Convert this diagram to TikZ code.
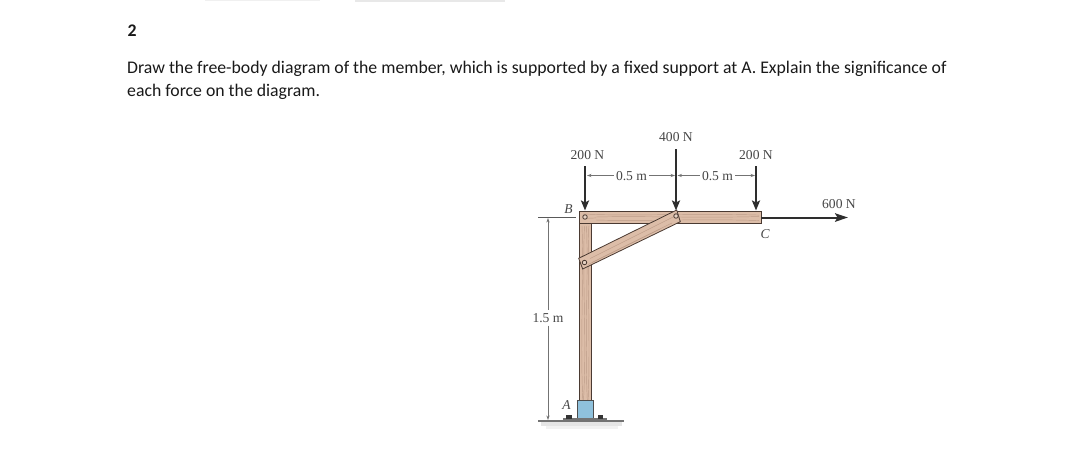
\documentclass[tikz,border=0pt]{standalone}
\usepackage{fontspec}
\setmainfont{Carlito}
\newfontfamily\labelfont{Liberation Serif}
\usetikzlibrary{arrows.meta,calc}
\definecolor{wood}{HTML}{DCBDA8}
\definecolor{woodd}{HTML}{BD9C88}
\definecolor{edge}{HTML}{4A3A32}
\definecolor{steel}{HTML}{8FC1DC}
\definecolor{inkg}{HTML}{2E2E2E}
\tikzset{
 question/.style={anchor=base west,inner sep=0pt,font=\fontsize{17.75}{20}\selectfont,text=black!90},
 dimlabel/.style={inner sep=0pt,outer xsep=2.5pt,outer ysep=3pt,font=\labelfont\fontsize{13.6}{15}\selectfont,text=black!72},
 letter/.style={inner sep=0pt,font=\labelfont\itshape\fontsize{13.5}{15}\selectfont,text=black!72},
 member/.style={fill=wood,draw=edge,line width=0.8pt},
 grain/.style={draw=woodd,line width=0.45pt},
 force/.style={draw=inkg,line width=2pt,-{Stealth[length=10pt,width=8pt,inset=2pt]}},
 pull/.style={draw=inkg,line width=2pt,-{Stealth[length=13pt,width=8.5pt,inset=2.5pt]}},
 dimstart/.style={draw=black!55,line width=1pt,{Stealth[length=4.5pt,width=3.2pt]}-},
 dimend/.style={draw=black!55,line width=1pt,-{Stealth[length=4.5pt,width=3.2pt]}},
 extline/.style={draw=black!65,line width=0.8pt},
 pin/.style={circle,draw=edge,fill=wood!70!white,line width=0.8pt,minimum size=4.5pt,inner sep=0pt},
}
\begin{document}
\begin{tikzpicture}[x=1pt,y=-1pt]
\useasboundingbox (0,0) rectangle (1080,448);
\fill[white] (0,0) rectangle (1080,448);
% faint marks along the top edge
\fill[black!6] (205,0) rectangle (320,1);
\fill[black!9] (355,0) rectangle (505,1.5);
% question text
\node[question,font=\bfseries\fontsize{17.75}{20}\selectfont] (num) at (127.5,36) {2};
\node[question] (q1) at (127,73) {Draw the free-body diagram of the member, which is supported by a fixed support at A. Explain the significance of};
\node[question] (q2) at (127,96) {each force on the diagram.};
% ground
\fill[black!10] (541,422) rectangle (622,426);
\fill[black!5] (546,426) rectangle (618,429);
\draw[black!55,line width=1.3pt] (538,421) -- (624,421);
% column
\fill[member] (579.5,222) rectangle (591,400.5);
\foreach \x/\b in {582/2.0,584.5/-2.5,586.5/2.0,588.8/-1.6}
  \draw[grain] (\x,226) .. controls (\x+\b,275) and (\x-\b,340) .. (\x+0.4*\b,400);
% beam
\fill[member] (579.5,211.5) rectangle (761,223);
\foreach \y/\b in {214.5/1.4,217/-1.2,220/1.4}
  \draw[grain] (596,\y) .. controls (640,\y+\b) and (700,\y-\b) .. (759,\y+0.4*\b);
\foreach \y/\b in {214/0.5,218.5/-0.6}
  \draw[grain] (583,\y) -- (596,\y+\b);
% brace
\fill[member] (578.7,258.3) -- (676.7,210) -- (680.3,221.7) -- (582.7,269) -- cycle;
\draw[grain] (590,258.5) -- (675,216);
\draw[grain] (592,262.5) -- (672,223);
\draw[grain] (588,264.5) -- (660,229);
% pins
\node[pin] (pinB) at (585,217) {};
\node[pin] (pinM) at (584.5,262.5) {};
\node[pin] (pinD) at (676,216) {};
% base
\fill[steel,draw=black!70,line width=0.8pt] (577,400.5) rectangle (593,418);
\fill[black!55] (563,418) rectangle (607,421);
\foreach \x in {567.5,570.5,599.5,602}{
  \fill[black!80] (\x-1.3,415) rectangle (\x+1.3,418.5);
}
% labels
\node[dimlabel] (f1) at (587.5,155) {200 N};
\node[dimlabel] (f2) at (676,137.5) {400 N};
\node[dimlabel] (f3) at (756,155) {200 N};
\node[dimlabel] (f4) at (839,204.5) {600 N};
\node[dimlabel] (d1) at (631.5,176.5) {0.5 m};
\node[dimlabel] (d2) at (717.5,176.5) {0.5 m};
\node[dimlabel] (d3) at (548,318) {1.5 m};
\node[letter] (B) at (568.5,209.5) {B};
\node[letter] (C) at (765,234) {C};
\node[letter] (A) at (566.5,405.5) {A};
% coordinates
\coordinate (b0) at (585,166); \coordinate (b1) at (585,210.5);
\coordinate (m0) at (676,149); \coordinate (m1) at (676,210.5);
\coordinate (c0) at (756,166); \coordinate (c1) at (756,210.5);
\coordinate (r0) at (761,217.5); \coordinate (r1) at (848,217.5);
\coordinate (dl) at (587,175.5); \coordinate (dm) at (675,175.5); \coordinate (dn) at (677.5,175.5); \coordinate (dr) at (755,175.5);
\coordinate (e0) at (538,217.5); \coordinate (e1) at (576,217.5);
\coordinate (v0) at (548,218); \coordinate (v1) at (548,420);
% forces
\draw[force] (b0) -- (b1);
\draw[force] (m0) -- (m1);
\draw[force] (c0) -- (c1);
\draw[pull] (r0) -- (r1);
% dimensions
\draw[dimstart] (dl) -- (dl -| d1.west);
\draw[dimend] (dm -| d1.east) -- (dm);
\draw[dimstart] (dn) -- (dn -| d2.west);
\draw[dimend] (dr -| d2.east) -- (dr);
\draw[extline] (e0) -- (e1);
\draw[dimstart] (v0) -- (d3.north);
\draw[dimend] (d3.south) -- (v1);
\end{tikzpicture}
\end{document}
